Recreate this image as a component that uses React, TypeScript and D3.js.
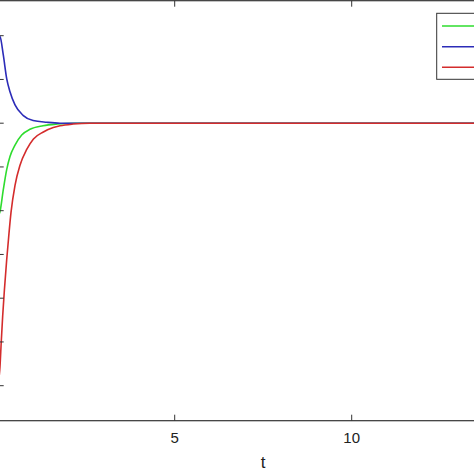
import React from "react";
import * as d3 from "d3";

const tBlue = [0, 0.065, 0.158, 0.254, 0.347, 0.489, 0.715, 1.0, 1.39, 1.76, 2.5, 15];
const vBlue = [2.0, 1.99, 1.78, 1.51, 1.36, 1.21, 1.09, 1.03, 1.01, 1.0, 1.0, 1.0];

const tGreen = [0, 0.065, 0.158, 0.254, 0.347, 0.489, 0.678, 0.912, 1.28, 1.68, 2.2, 15];
const vGreen = [-0.06, -0.01, 0.24, 0.47, 0.62, 0.75, 0.865, 0.93, 0.97, 0.99, 1.0, 1.0];

const tRed = [0, 0.065, 0.1, 0.141, 0.19, 0.254, 0.31, 0.376, 0.489, 0.63, 0.82, 1.01, 1.29, 1.57, 1.76, 2.13, 2.6, 15];
const vRed = [-2.0, -1.78, -1.5, -1.2, -0.9, -0.56, -0.3, -0.02, 0.29, 0.52, 0.7, 0.82, 0.9, 0.95, 0.97, 0.99, 1.0, 1.0];

const xTicks = [0, 5, 10, 15];
const xTickLabels = ["5", "10"];
const yTicks = [-2, -1.5, -1, -0.5, 0, 0.5, 1, 1.5, 2];
const colors = ["#2edc2e", "#2c2cb8", "#d42c2c"];

export default function App() {
  const W = 474;
  const H = 474;
  const x = d3.scaleLinear().domain([0, 15]).range([-2.3, -2.3 + 15 * 35.4]);
  const y = d3.scaleLinear().domain([-2.4, 2.4]).range([420.7, 0.7]);
  const line = d3
    .line<[number, number]>()
    .x((d) => x(d[0]))
    .y((d) => y(d[1]))
    .curve(d3.curveMonotoneX);

  const series = [
    { t: tGreen, v: vGreen },
    { t: tBlue, v: vBlue },
    { t: tRed, v: vRed },
  ];

  const x0 = x(0);
  const x1 = x(15);
  const yTop = y(2.4);
  const yBot = y(-2.4);
  const frame = "#333333";
  const font = "Liberation Sans, Arial, sans-serif";

  const legX = 436.7;
  const legY = 13.3;
  const legRows = [26, 46.7, 67.3];

  return (
    <svg
      width={W}
      height={H}
      style={{ position: "absolute", left: 0, top: 0, display: "block", background: "#fff" }}
    >
      {series.map((s, i) => (
        <path
          key={i}
          d={line(s.t.map((t, j) => [t, s.v[j]] as [number, number])) || ""}
          fill="none"
          stroke={colors[i]}
          strokeWidth={1.6}
        />
      ))}
      <rect x={x0} y={yTop} width={x1 - x0} height={yBot - yTop} fill="none" stroke={frame} strokeWidth={1.2} />
      {xTicks.map((t) => (
        <g key={"xt" + t}>
          <line x1={x(t)} x2={x(t)} y1={yBot} y2={yBot - 6} stroke={frame} strokeWidth={1} />
          <line x1={x(t)} x2={x(t)} y1={yTop} y2={yTop + 6} stroke={frame} strokeWidth={1} />
        </g>
      ))}
      {xTickLabels.map((lab) => (
        <text key={"xl" + lab} x={x(+lab)} y={443} textAnchor="middle" fontFamily={font} fontSize={15} fill="#222">
          {lab}
        </text>
      ))}
      {yTicks.map((v) => (
        <g key={"yt" + v}>
          <line x1={x0} x2={x0 + 6} y1={y(v)} y2={y(v)} stroke={frame} strokeWidth={1} />
          <line x1={x1} x2={x1 - 6} y1={y(v)} y2={y(v)} stroke={frame} strokeWidth={1} />
        </g>
      ))}
      <text x={263} y={468} textAnchor="middle" fontFamily={font} fontSize={17} fill="#222">
        t
      </text>
      <rect x={legX} y={legY} width={80} height={66} fill="#fff" stroke={frame} strokeWidth={1} />
      {colors.map((c, i) => (
        <line key={c} x1={442} x2={480} y1={legRows[i]} y2={legRows[i]} stroke={c} strokeWidth={1.6} />
      ))}
    </svg>
  );
}
